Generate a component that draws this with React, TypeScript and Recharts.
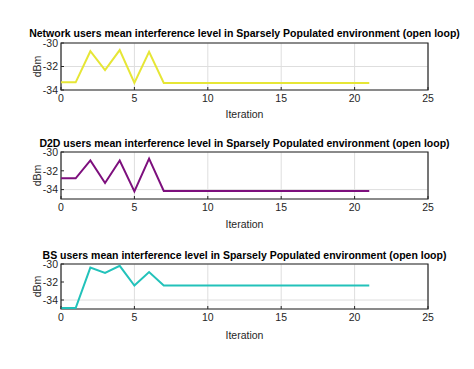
import { LineChart, Line, XAxis, YAxis, CartesianGrid, ReferenceArea } from 'recharts';

const iterations = [0, 1, 2, 3, 4, 5, 6, 7, 8, 9, 10, 11, 12, 13, 14, 15, 16, 17, 18, 19, 20, 21];
const networkUsers = [-33.35, -33.35, -30.7, -32.3, -30.6, -33.4, -30.75, -33.4, -33.4, -33.4, -33.4, -33.4, -33.4, -33.4, -33.4, -33.4, -33.4, -33.4, -33.4, -33.4, -33.4, -33.4];
const d2dUsers = [-32.8, -32.8, -30.9, -33.3, -30.9, -34.2, -30.7, -34.15, -34.15, -34.15, -34.15, -34.15, -34.15, -34.15, -34.15, -34.15, -34.15, -34.15, -34.15, -34.15, -34.15, -34.15];
const bsUsers = [-34.9, -34.9, -30.4, -31.0, -30.2, -32.4, -30.9, -32.4, -32.4, -32.4, -32.4, -32.4, -32.4, -32.4, -32.4, -32.4, -32.4, -32.4, -32.4, -32.4, -32.4, -32.4];
const xTicks = [0, 5, 10, 15, 20, 25];
const yTicks = [-34, -32, -30];

const font = '"Liberation Sans", Arial, sans-serif';

const Panel = ({ title, values, color, top, height, mt, mb, yMin, titleY, labelOffset }: any) => {
  const data = iterations.map((it, i) => ({ it, v: values[i] }));
  return (
    <div style={{ position: 'absolute', left: 0, top, width: 474, height }}>
      <div style={{ position: 'absolute', left: 0, width: 489, top: titleY - top - 5, textAlign: 'center', fontWeight: 'bold', fontSize: 10.5, fontFamily: font, color: '#000', whiteSpace: 'nowrap', lineHeight: '10px' }}>
        {title}
      </div>
      <LineChart width={474} height={height} data={data} margin={{ top: mt, right: 46, bottom: mb, left: 13 }}>
        <CartesianGrid stroke="#dedede" strokeWidth={1} />
        <XAxis
          dataKey="it"
          type="number"
          domain={[0, 25]}
          ticks={xTicks}
          height={30}
          axisLine={false}
          tickSize={-3}
          tickMargin={8}
          tickLine={{ stroke: '#262626' }}
          tick={{ fill: '#262626', fontSize: 10.5, fontFamily: font }}
          label={{ value: 'Iteration', position: 'insideBottom', offset: labelOffset, fill: '#262626', fontSize: 10.5, fontFamily: font }}
        />
        <YAxis
          type="number"
          domain={[yMin, -30]}
          ticks={yTicks}
          width={48}
          axisLine={false}
          tickSize={-3}
          tickMargin={6}
          tickLine={{ stroke: '#262626' }}
          tick={{ fill: '#262626', fontSize: 10.5, fontFamily: font }}
          label={{ value: 'dBm', angle: -90, position: 'center', fill: '#262626', fontSize: 10.5, fontFamily: font }}
        />
        <ReferenceArea x1={0} x2={25} y1={yMin} y2={-30} fill="none" stroke="#262626" strokeWidth={1.2} fillOpacity={0} />
        <Line type="linear" dataKey="v" stroke={color} strokeWidth={2} dot={false} isAnimationActive={false} />
      </LineChart>
    </div>
  );
};

export default function App() {
  return (
    <div style={{ position: 'absolute', left: 0, top: 0, width: 474, height: 369, background: '#fff', overflow: 'hidden' }}>
      <Panel
        title="Network users mean interference level in Sparsely Populated environment (open loop)"
        values={networkUsers}
        color="#e6e636"
        top={0}
        height={130}
        mt={43}
        mb={10}
        yMin={-34}
        titleY={33}
        labelOffset={2}
      />
      <Panel
        title="D2D users mean interference level in Sparsely Populated environment (open loop)"
        values={d2dUsers}
        color="#7d0f7d"
        top={130}
        height={110}
        mt={22}
        mb={11}
        yMin={-35}
        titleY={143}
        labelOffset={1}
      />
      <Panel
        title="BS users mean interference level in Sparsely Populated environment (open loop)"
        values={bsUsers}
        color="#22c2ba"
        top={240}
        height={129}
        mt={24}
        mb={30}
        yMin={-35}
        titleY={255}
        labelOffset={0}
      />
    </div>
  );
}
